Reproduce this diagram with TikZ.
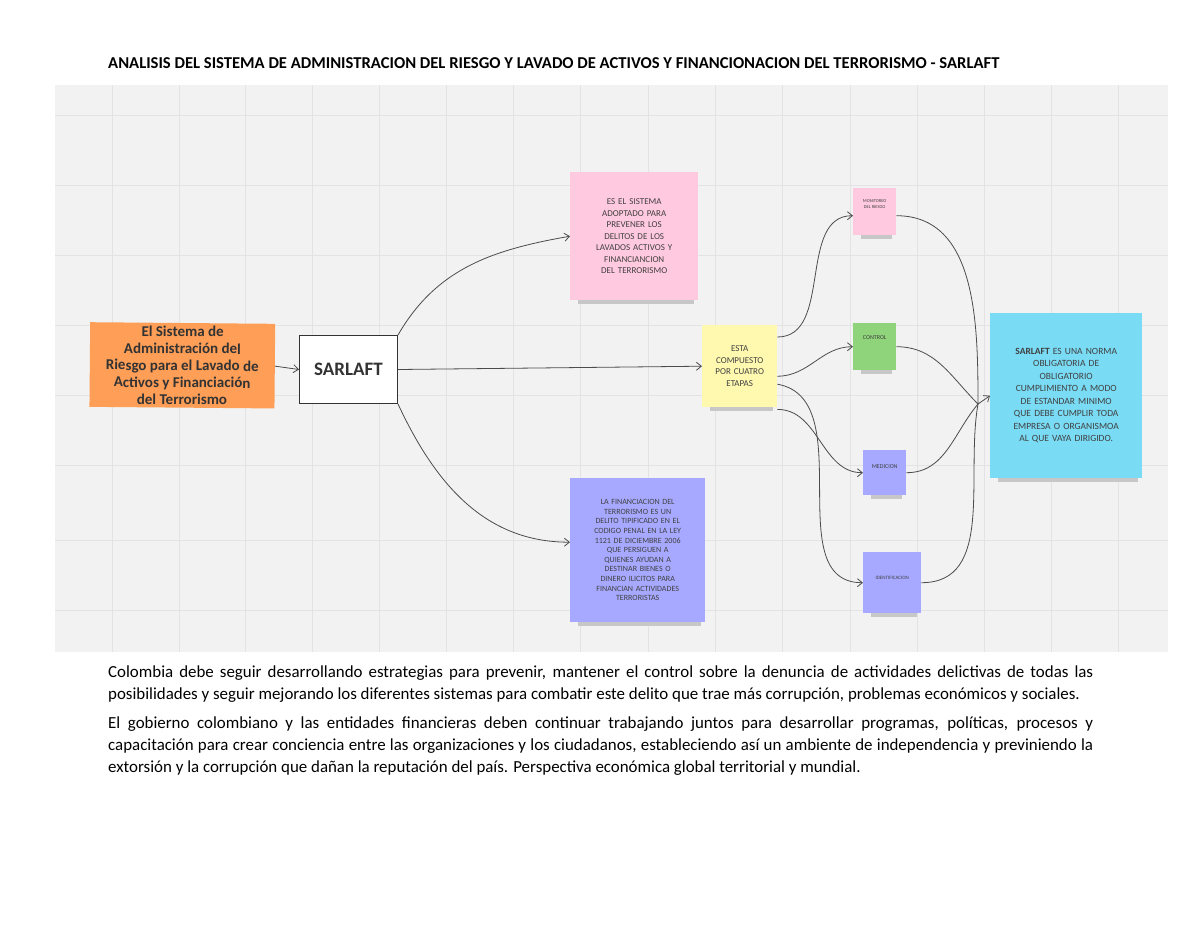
\documentclass[tikz,border=0pt]{standalone}
\usepackage{fontspec}
\setmainfont{Carlito}
\usetikzlibrary{arrows.meta}
\begin{document}
\begin{tikzpicture}[x=1pt,y=-1pt,
  sticky/.style={anchor=north west,inner sep=3pt,align=center,font=\fontsize{9}{11.5}\selectfont,text=black!75},
  con/.style={draw=black!70,line width=0.8pt,-{Straight Barb[length=5pt,width=8pt]}},
  conv/.style={draw=black!70,line width=0.8pt},
  para/.style={anchor=north west,text width=985,align=justify,font=\fontsize{16.9}{22}\selectfont,inner sep=0}]
\useasboundingbox (0,0) rectangle (1200,927);
\fill[white] (0,0) rectangle (1200,927);
\node[anchor=west,font=\bfseries\fontsize{16.6}{18}\selectfont,inner sep=0] (title) at (108,63) {ANALISIS DEL SISTEMA DE ADMINISTRACION DEL RIESGO Y LAVADO DE ACTIVOS Y FINANCIONACION DEL TERRORISMO - SARLAFT};
\fill[black!5] (55,85) rectangle (1168,652);
\foreach \x in {112,179,245,312,379,446,513,580,648,715,782,850,917,984,1051,1118}
  \draw[black!11,line width=0.8pt] (\x,85) -- (\x,652);
\foreach \y in {115,185,255,325,395,465,540,610}
  \draw[black!11,line width=0.8pt] (55,\y) -- (1168,\y);
% shadows
\foreach \a/\b/\c/\d in {570/172/698/300,570/478/705/622,990/313/1142/478,702/325/777/407,853/188/896/235,853/323/896/370,863/450/906/495,863/552/921/613}
  \fill[black!22] (\a+8,\d-2) rectangle (\c-4,\d+4);
\node[sticky,fill={rgb,255:red,255;green,158;blue,86},minimum width=185,minimum height=83,font=\bfseries\fontsize{15}{17}\selectfont,text=black!80,rotate=-0.5] (orig) at (90,322) {El Sistema de\\Administración del\\Riesgo para el Lavado de\\Activos y Financiación\\del Terrorismo};
\node[anchor=north west,draw=black!80,line width=1pt,fill=white,minimum width=98,minimum height=68,font=\bfseries\fontsize{19}{21}\selectfont,text=black!80] (sar) at (299,335) {SARLAFT};
\node[sticky,fill={rgb,255:red,255;green,201;blue,223},minimum width=128,minimum height=128,text width=110] (def) at (570,172) {ES EL SISTEMA\\ADOPTADO PARA\\PREVENER LOS\\DELITOS DE LOS\\LAVADOS ACTIVOS Y\\FINANCIANCION\\DEL TERRORISMO\\[18pt]};
\node[sticky,fill={rgb,255:red,255;green,249;blue,176},minimum width=75,minimum height=82,text width=64] (etap) at (702,325) {ESTA\\COMPUESTO\\POR CUATRO\\ETAPAS};
\node[sticky,fill={rgb,255:red,166;green,169;blue,255},minimum width=135,minimum height=144,text width=125,font=\fontsize{8}{9.6}\selectfont] (fin) at (570,478) {LA FINANCIACION DEL\\TERRORISMO ES UN\\DELITO TIPIFICADO EN EL\\CODIGO PENAL EN LA LEY\\1121 DE DICIEMBRE 2006\\QUE PERSIGUEN A\\QUIENES AYUDAN A\\DESTINAR BIENES O\\DINERO ILICITOS PARA\\FINANCIAN ACTIVIDADES\\TERRORISTAS\\[8pt]};
\node[sticky,fill={rgb,255:red,255;green,201;blue,223},minimum width=43,minimum height=47,font=\fontsize{4.5}{5.5}\selectfont,inner sep=1pt] (mon) at (853,188) {MONITOREO\\DEL RIESGO\\[10pt]};
\node[sticky,fill={rgb,255:red,143;green,212;blue,122},minimum width=43,minimum height=47,font=\fontsize{6}{7}\selectfont,inner sep=1pt] (ctl) at (853,323) {CONTROL\\[12pt]};
\node[sticky,fill={rgb,255:red,166;green,169;blue,255},minimum width=43,minimum height=45,font=\fontsize{6}{7}\selectfont,inner sep=1pt] (med) at (863,450) {MEDICION\\[6pt]};
\node[sticky,fill={rgb,255:red,166;green,169;blue,255},minimum width=58,minimum height=61,font=\fontsize{5}{6}\selectfont,inner sep=1pt] (ide) at (863,552) {IDENTIFICACION\\[4pt]};
\node[sticky,fill={rgb,255:red,122;green,219;blue,245},minimum width=152,minimum height=165,text width=130,font=\fontsize{9.5}{12.5}\selectfont] (norma) at (990,313) {\textbf{SARLAFT} ES UNA NORMA\\OBLIGATORIA DE\\OBLIGATORIO\\CUMPLIMIENTO A MODO\\DE ESTANDAR MINIMO\\QUE DEBE CUMPLIR TODA\\EMPRESA O ORGANISMOA\\AL QUE VAYA DIRIGIDO.\\[22pt]};
\coordinate (conv) at (978,404);
% connectors
\draw[con] (orig.east) -- (sar.west);
\draw[con] (sar.north east) to[out=60,in=190] (def.west);
\draw[con] (sar.east) -- (etap.west);
\draw[con] (sar.south east) to[out=-65,in=180] ([yshift=8]fin.west);
\draw[con] ([yshift=-12]etap.north east) to[out=0,in=180] ([yshift=-4]mon.west);
\draw[con] ([yshift=-10]etap.east) to[out=0,in=180] (ctl.west);
\draw[con] ([yshift=-2]etap.south east) to[out=0,in=180] (med.west);
\draw[con] ([yshift=-18]etap.east) to[out=-10,in=180] (ide.west);
\draw[con] ([yshift=-4]mon.east) to[out=0,in=90] (conv) -- (norma.west);
\draw[conv] (ctl.east) to[out=0,in=135] (conv);
\draw[conv] (med.east) to[out=0,in=-130] (conv);
\draw[conv] (ide.east) to[out=0,in=-100] (conv);
% text
\node[para] (p1) at (108,666) {Colombia debe seguir desarrollando estrategias para prevenir, mantener el control sobre la denuncia de actividades delictivas de todas las\linebreak posibilidades y seguir mejorando los diferentes sistemas para combatir este delito que trae más corrupción, problemas económicos y sociales.};
\node[para] (p2) at (108,717) {El gobierno colombiano y las entidades financieras deben continuar trabajando juntos para desarrollar programas, políticas, procesos y\linebreak capacitación para crear conciencia entre las organizaciones y los ciudadanos, estableciendo así un ambiente de independencia y previniendo la\linebreak extorsión y la corrupción que dañan la reputación del país. Perspectiva económica global territorial y mundial.};
\end{tikzpicture}
\end{document}
